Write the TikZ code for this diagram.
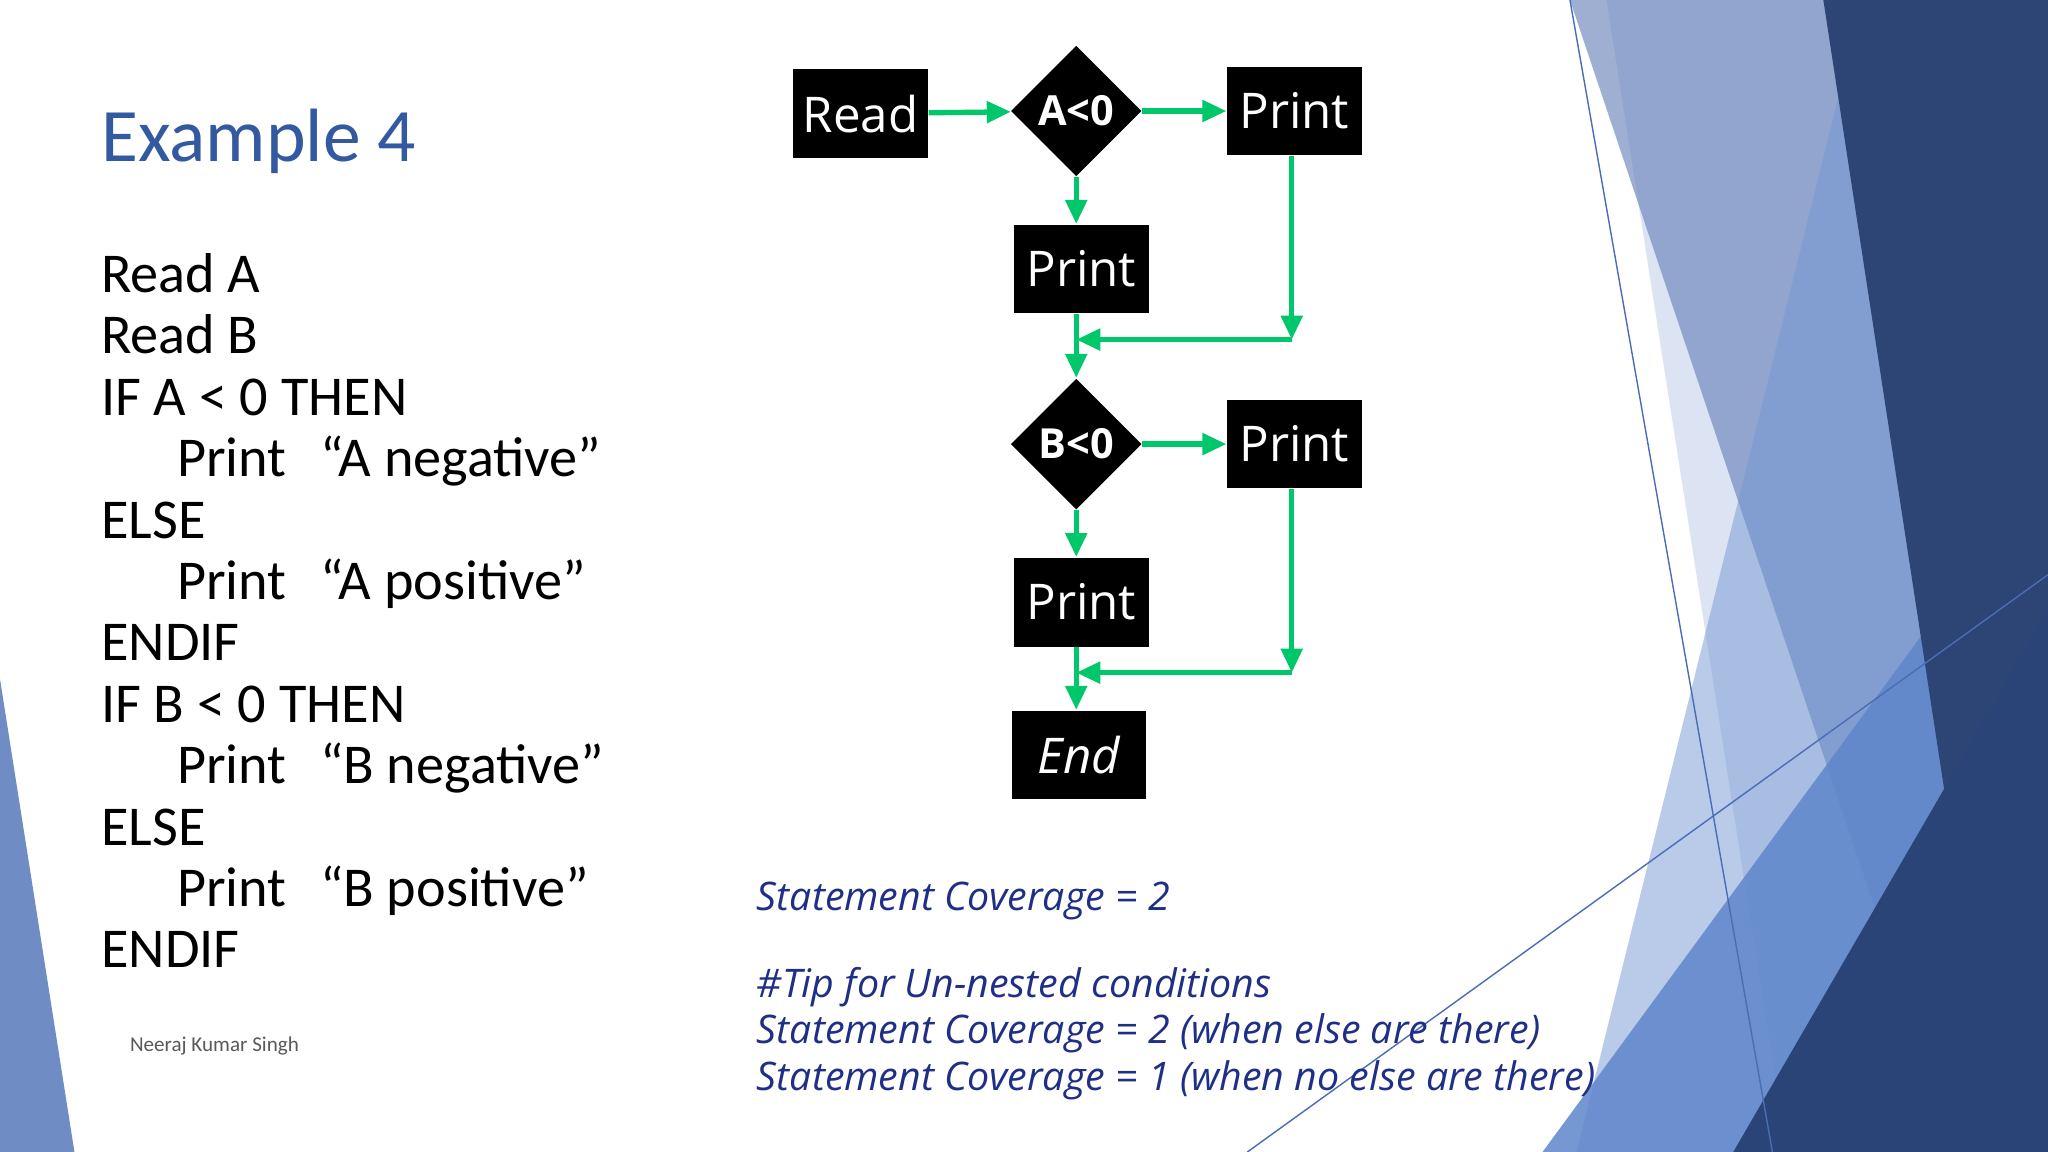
\documentclass[tikz,border=0pt]{standalone}
\usepackage{fontspec}
\setmainfont{Carlito}
\newfontfamily\boxfont{Open Sans}
\usetikzlibrary{shapes.geometric,arrows.meta}
\definecolor{arrowgreen}{HTML}{00C86A}
\definecolor{titleblue}{HTML}{3359A0}
\definecolor{noteblue}{HTML}{1F2F86}
\definecolor{bgA}{HTML}{DCE4F4}
\definecolor{bgB}{HTML}{5F7BB5}
\definecolor{bgC}{HTML}{7598D2}
\definecolor{bgD}{HTML}{5F86CB}
\definecolor{bgE}{HTML}{2C4574}
\definecolor{bgF}{HTML}{2A4478}
\definecolor{bgL}{HTML}{4A6DB5}
\definecolor{bgS}{HTML}{6F8DC4}
\begin{document}
\begin{tikzpicture}[x=0.013061cm,y=-0.013061cm,
  box/.style={fill=black,text=white,font=\boxfont\fontsize{14}{17}\selectfont,minimum width=1.345cm,minimum height=0.888cm,inner sep=0pt},
  dia/.style={diamond,fill=black,text=white,font=\boxfont\bfseries\fontsize{11.8}{14}\selectfont,minimum width=1.31cm,minimum height=1.31cm,inner sep=0pt},
  flow/.style={draw=arrowgreen,line width=1.5pt,-{Triangle[length=0.24cm,width=0.21cm]}},
  code/.style={anchor=base west,inner sep=0pt,font=\fontsize{16}{19}\selectfont},
  note/.style={anchor=base west,inner sep=0pt,text=noteblue,font=\boxfont\itshape\fontsize{11.2}{14}\selectfont}]
\useasboundingbox (0,0) rectangle (1568,882);
\fill[white] (0,0) rectangle (1568,882);
% background shapes
\fill[bgS] (0,520) -- (57,882) -- (0,882) -- cycle;
\fill[bgA] (1230,0) -- (1568,0) -- (1568,882) -- (1368,882) -- cycle;
\fill[bgB,opacity=0.6] (1202,0) -- (1568,0) -- (1568,882) -- (1498,882) -- cycle;
\fill[bgC,opacity=0.5] (1426,0) -- (1568,0) -- (1568,882) -- (1207,882) -- cycle;
\fill[bgD,opacity=0.85] (1181,882) -- (1465,495) -- (1568,355) -- (1568,882) -- cycle;
\fill[bgE] (1396,0) -- (1568,0) -- (1568,882) -- (1531,882) -- cycle;
\fill[bgF] (1327,882) -- (1568,467) -- (1568,882) -- cycle;
\draw[bgL,line width=0.4pt] (1202,0) -- (1357,882);
\draw[bgL,line width=0.4pt] (955,882) -- (1568,440);
% title and code
\node[anchor=base west,inner sep=0pt,text=titleblue,font=\fontsize{21.5}{26}\selectfont] (title) at (77,124) {Example 4};
\node[code] (l1) at (77,224) {Read A};
\node[code] (l2) at (77,271) {Read B};
\node[code] (l3) at (77,318) {IF A < 0 THEN};
\node[code] (l4) at (135,365) {Print\hspace{0.6em}“A negative”};
\node[code] (l5) at (77,412) {ELSE};
\node[code] (l6) at (135,459) {Print\hspace{0.6em}“A positive”};
\node[code] (l7) at (77,506) {ENDIF};
\node[code] (l8) at (77,553) {IF B < 0 THEN};
\node[code] (l9) at (135,600) {Print\hspace{0.6em}“B negative”};
\node[code] (l10) at (77,647) {ELSE};
\node[code] (l11) at (135,694) {Print\hspace{0.6em}“B positive”};
\node[code] (l12) at (77,741) {ENDIF};
\node[anchor=base west,inner sep=0pt,text=black!65,font=\fontsize{6}{7}\selectfont] (foot) at (99,805) {Neeraj Kumar Singh};
% flowchart
\node[box] (read) at (659,87) {Read};
\node[dia] (da) at (824,85) {A<0};
\node[box] (p1) at (991,85) {Print};
\node[box] (p2) at (828,206) {Print};
\node[dia] (db) at (824,340) {B<0};
\node[box] (p3) at (991,340) {Print};
\node[box] (p4) at (828,461) {Print};
\node[box,font=\boxfont\itshape\fontsize{14}{17}\selectfont] (end) at (826,578) {End};
\coordinate (j1) at (989,260);
\coordinate (k1) at (824,260);
\coordinate (j2) at (989,515);
\coordinate (k2) at (824,515);
\draw[flow] (read) -- (da);
\draw[flow] (da) -- (p1);
\draw[flow] (da.south) -- (da.south |- p2.north);
\draw[flow] (p1.south -| j1) -- (j1);
\draw[flow] (j1) -- (k1);
\draw[flow] (p2.south -| k1) -- (db.north);
\draw[flow] (db) -- (p3);
\draw[flow] (db.south) -- (db.south |- p4.north);
\draw[flow] (p3.south -| j2) -- (j2);
\draw[flow] (j2) -- (k2);
\draw[flow] (p4.south -| k2) -- (end.north -| k2);
% notes
\node[note] (n1) at (579,697) {Statement Coverage = 2};
\node[note] (n2) at (579,764) {\#Tip for Un-nested conditions};
\node[note] (n3) at (579,799) {Statement Coverage = 2 (when else are there)};
\node[note] (n4) at (579,835) {Statement Coverage = 1 (when no else are there)};
\end{tikzpicture}
\end{document}
